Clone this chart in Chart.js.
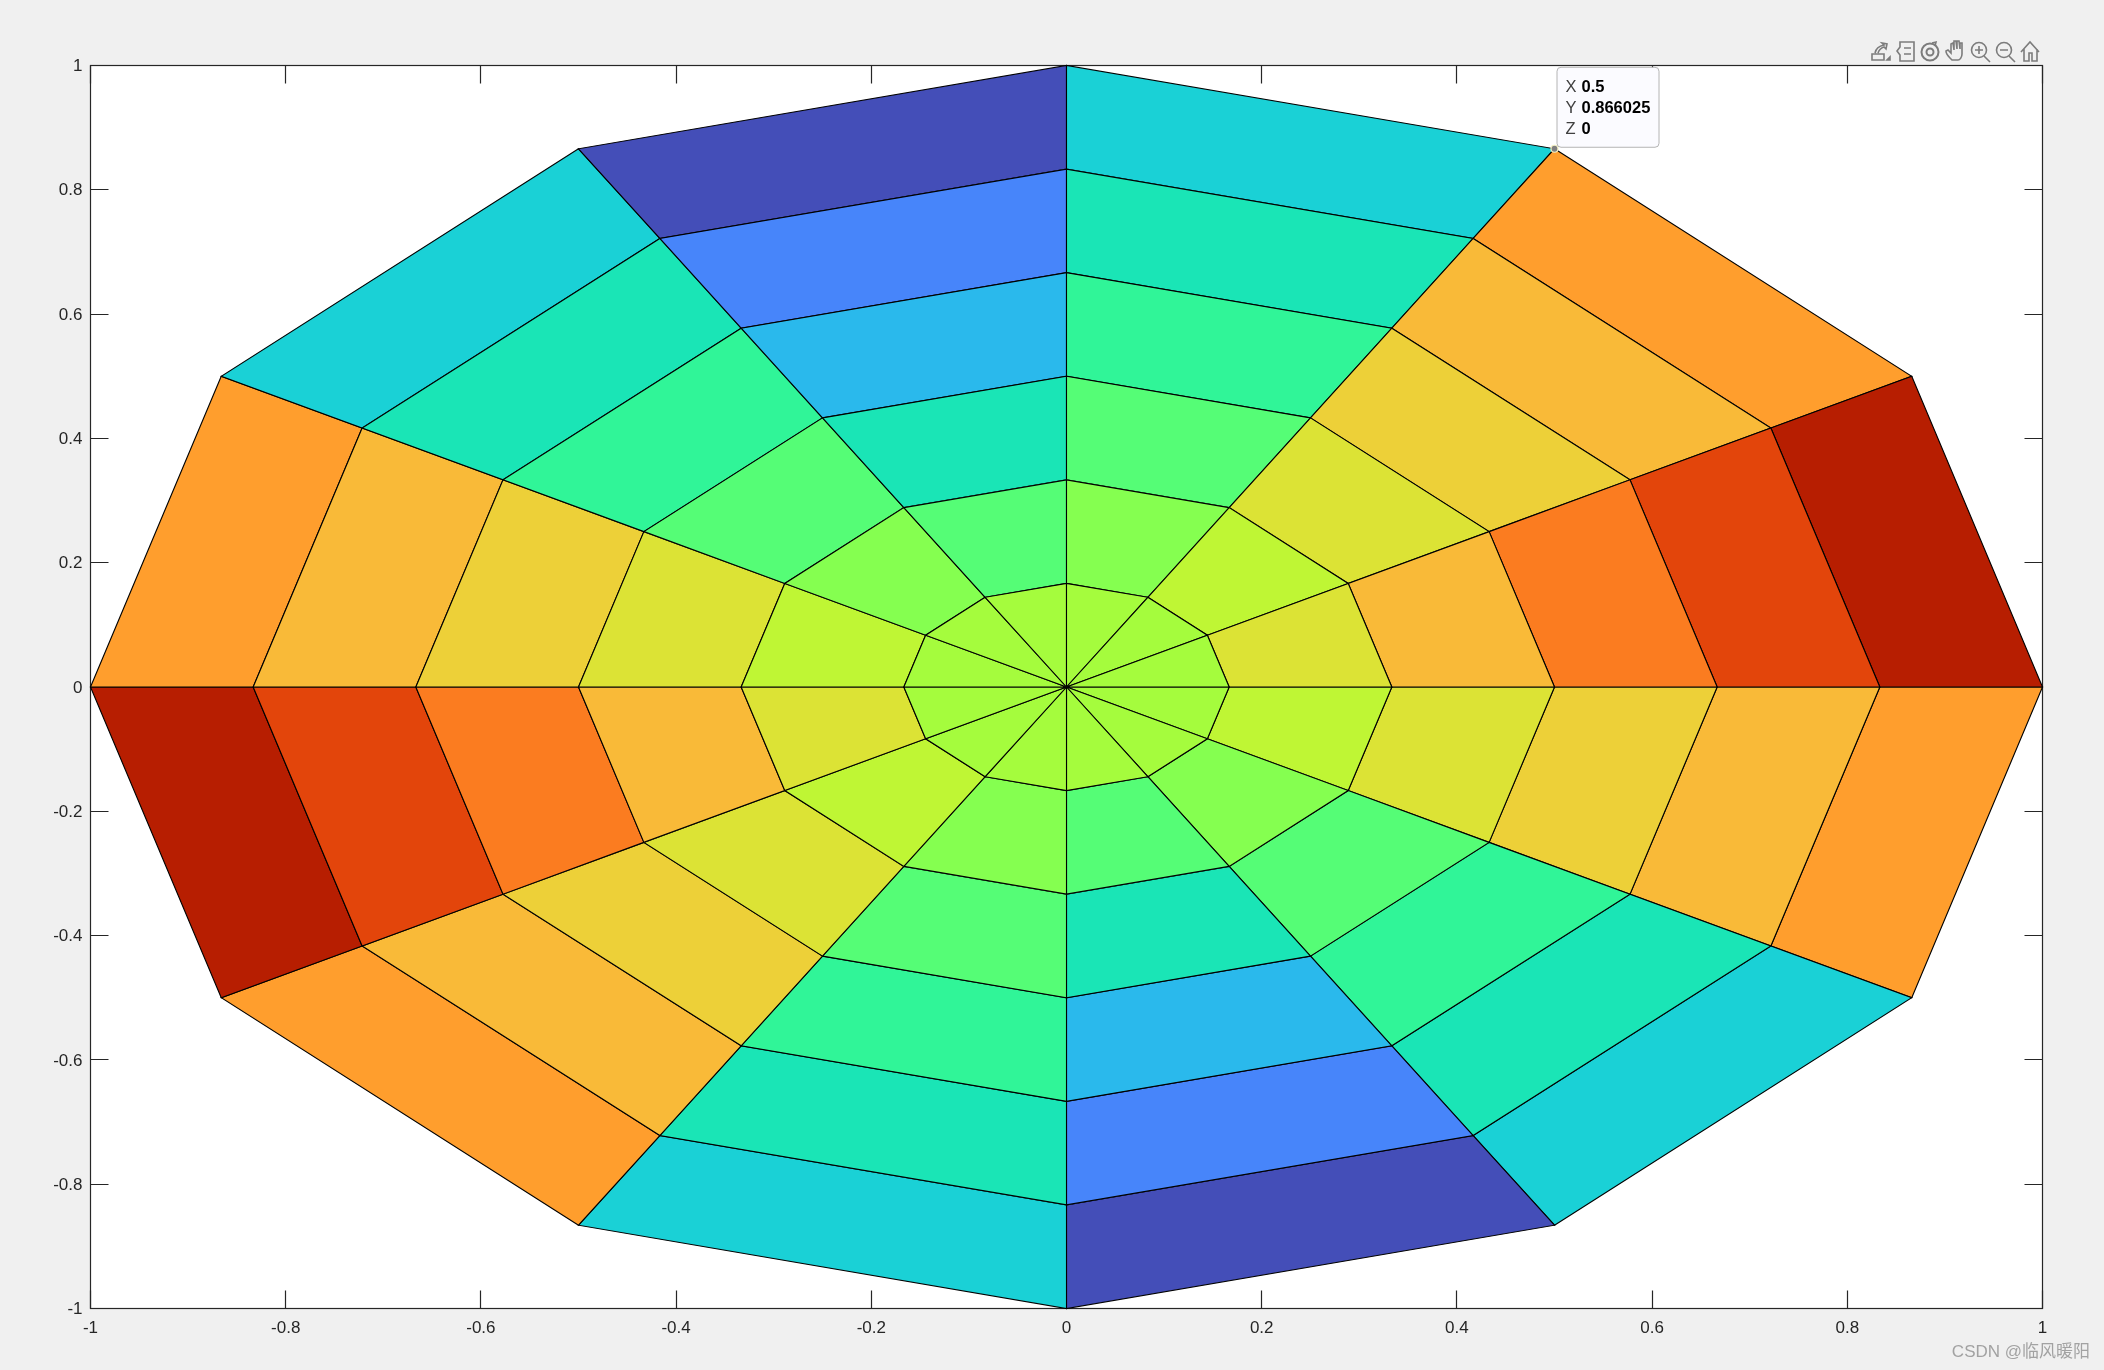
<!DOCTYPE html>
<html lang="en">
<head>
  <meta charset="UTF-8">
  <title>Polar mesh</title>
  <script src="https://cdn.jsdelivr.net/npm/chart.js"></script>
  <style>
    body { margin: 0; background: #f0f0f0; }
    #wrap { position: relative; width: 2104px; height: 1370px; overflow: hidden; }
    #mesh { position: absolute; left: 0; top: 0; }
    #toolbar { position: absolute; left: 0; top: 0; }
    #toolbar * { fill: none; stroke: #7c7c7c; stroke-width: 1.6; }
  </style>
</head>
<body>
<div id="wrap">
  <canvas id="mesh" width="2104" height="1370"></canvas>
  <svg id="toolbar" width="2104" height="64">
    <path d="M1872 60v-6h12v6zM1875 53c1-5 4-7 9-8l-2-2 5 1-1 5-2-2c-3 1-5 3-6 6"/>
    <path d="M1887 60h3v-3z" style="fill:#7c7c7c"/>
    <path d="M1900 42h14v19h-14v-6l-3-4 3-4zM1904 48h7M1904 54h7"/>
    <circle cx="1930" cy="52" r="8.5" style="stroke-width:2"/><circle cx="1930" cy="52" r="3.5" style="stroke-width:2"/><path d="M1932 43l4-1-1 4"/>
    <path d="M1950 58c-2-2-4-5-4-7l2-1 3 3v-9l2-1 1 7v-9h2l1 8v-8h2l1 8v-6h2v11c0 3-2 6-4 6h-6z"/>
    <circle cx="1979" cy="50" r="7.5"/><path d="M1975 50h8M1979 46v8M1984 56l6 6"/>
    <circle cx="2004" cy="50" r="7.5"/><path d="M2000 50h8M2009 56l6 6"/>
    <path d="M2021 52l9-10 9 10M2024 49v12h5v-8h3v8h5v-12"/>
  </svg>
</div>
<script>
// mesh nodes: rings and spokes
const ringRadii = [0, 0.166667, 0.333333, 0.5, 0.666667, 0.833333, 1];
const spokeX = [1, 0.866025, 0.5, 0, -0.5, -0.866025, -1, -0.866025, -0.5, 0, 0.5, 0.866025, 1];
const spokeY = [0, 0.5, 0.866025, 1, 0.866025, 0.5, 0, -0.5, -0.866025, -1, -0.866025, -0.5, 0];

// colour level of each cell, one list per sector, inner ring first
const sector1 = [8, 10, 12, 14, 15, 16];
const sector2 = [8, 9, 10, 11, 12, 13];
const sector3 = [8, 7, 6, 5, 4, 3];
const sector4 = [8, 6, 4, 2, 1, 0];
const sector5 = [8, 7, 6, 5, 4, 3];
const sector6 = [8, 9, 10, 11, 12, 13];
const sector7 = [8, 10, 12, 14, 15, 16];
const sector8 = [8, 9, 10, 11, 12, 13];
const sector9 = [8, 7, 6, 5, 4, 3];
const sector10 = [8, 6, 4, 2, 1, 0];
const sector11 = [8, 7, 6, 5, 4, 3];
const sector12 = [8, 9, 10, 11, 12, 13];
const sectors = [sector1, sector2, sector3, sector4, sector5, sector6,
                 sector7, sector8, sector9, sector10, sector11, sector12];

const colormap = ['#444eb8', '#4785fa', '#2ab9ec', '#1ad1d6', '#1ae5b6', '#30f598', '#55fd76', '#85ff50', '#a5fc3d',
                  '#bff634', '#dce335', '#edd038', '#f9ba38', '#ff9e2d', '#fb7c20', '#e3450b', '#b71e01'];

const tickValues = [-1, -0.8, -0.6, -0.4, -0.2, 0, 0.2, 0.4, 0.6, 0.8, 1];
const tickLabels = ['-1', '-0.8', '-0.6', '-0.4', '-0.2', '0', '0.2', '0.4', '0.6', '0.8', '1'];

// data tip
const tipX = 0.5;
const tipY = 0.866025;
const tipNames = ['X', 'Y', 'Z'];
const tipTexts = ['0.5', '0.866025', '0'];

const axisColor = '#262626';

const datasets = [{
  data: [{ x: tipX, y: tipY }],
  showLine: false,
  pointRadius: 3.5,
  pointBackgroundColor: '#7f7f7f',
  pointBorderColor: '#f4f1c4',
  pointBorderWidth: 1.2,
  clip: false
}];
sectors.forEach((levels, s) => {
  levels.forEach((level, r) => {
    const cell = [
      { x: ringRadii[r] * spokeX[s], y: ringRadii[r] * spokeY[s] },
      { x: ringRadii[r + 1] * spokeX[s], y: ringRadii[r + 1] * spokeY[s] },
      { x: ringRadii[r + 1] * spokeX[s + 1], y: ringRadii[r + 1] * spokeY[s + 1] },
      { x: ringRadii[r] * spokeX[s + 1], y: ringRadii[r] * spokeY[s + 1] }
    ];
    cell.push(cell[0]);
    datasets.push({
      data: cell,
      showLine: true,
      tension: 0,
      fill: false,
      backgroundColor: colormap[level],
      borderColor: '#000',
      borderWidth: 1.1,
      pointRadius: 0,
      clip: false
    });
  });
});

// polygons: fill the line's own points just before it is stroked
const cellFill = {
  id: 'cellFill',
  beforeDatasetDraw(chart, args) {
    const pts = args.meta.data;
    if (pts.length < 4) return;
    const ctx = chart.ctx;
    ctx.save();
    ctx.beginPath();
    pts.forEach((p, i) => i ? ctx.lineTo(p.x, p.y) : ctx.moveTo(p.x, p.y));
    ctx.closePath();
    ctx.fillStyle = args.meta.dataset.options.backgroundColor;
    ctx.fill();
    ctx.restore();
  }
};

// box and inward ticks on all four sides
const axesBox = {
  id: 'axesBox',
  beforeDatasetsDraw(chart) {
    const { ctx, chartArea: a, scales } = chart;
    const len = 18;
    ctx.save();
    ctx.fillStyle = '#fff';
    ctx.fillRect(a.left, a.top, a.right - a.left, a.bottom - a.top);
    ctx.strokeStyle = axisColor;
    ctx.lineWidth = 1.2;
    ctx.strokeRect(a.left, a.top, a.right - a.left, a.bottom - a.top);
    ctx.beginPath();
    tickValues.forEach(v => {
      const x = Math.floor(scales.x.getPixelForValue(v)) + 0.5;
      const y = Math.floor(scales.y.getPixelForValue(v)) + 0.5;
      ctx.moveTo(x, a.top); ctx.lineTo(x, a.top + len);
      ctx.moveTo(x, a.bottom); ctx.lineTo(x, a.bottom - len);
      ctx.moveTo(a.left, y); ctx.lineTo(a.left + len, y);
      ctx.moveTo(a.right, y); ctx.lineTo(a.right - len, y);
    });
    ctx.stroke();
    ctx.restore();
  }
};

// data tip box and the watermark
const extras = {
  id: 'extras',
  afterDatasetsDraw(chart) {
    const { ctx, scales } = chart;
    const px = scales.x.getPixelForValue(tipX);
    const py = scales.y.getPixelForValue(tipY);
    const left = px + 2.5, top = py - 81.5;
    ctx.save();
    ctx.beginPath();
    ctx.roundRect(left, top, 102, 80, 4);
    ctx.fillStyle = '#fbfbff';
    ctx.fill();
    ctx.strokeStyle = '#b4b4b4';
    ctx.lineWidth = 1;
    ctx.stroke();
    ctx.textBaseline = 'middle';
    tipNames.forEach((name, i) => {
      const y = top + 20 + i * 21;
      ctx.font = '16.5px "Liberation Sans"';
      ctx.fillStyle = '#404040';
      ctx.fillText(name, left + 8.5, y);
      ctx.font = 'bold 16.5px "Liberation Sans"';
      ctx.fillStyle = '#000';
      ctx.fillText(tipTexts[i], left + 24.5, y);
    });
    ctx.font = '17px "Liberation Sans", "Noto Sans CJK SC"';
    ctx.fillStyle = '#a2a2a2';
    ctx.textAlign = 'right';
    ctx.fillText('CSDN @临风暖阳', 2090, 1352);
    ctx.restore();
  }
};

function axis(fit) {
  return {
    type: 'linear',
    min: -1,
    max: 1,
    afterFit: fit,
    afterBuildTicks(scale) { scale.ticks = tickValues.map(value => ({ value })); },
    grid: { display: false },
    border: { display: false },
    ticks: {
      autoSkip: false,
      maxRotation: 0,
      color: axisColor,
      font: { family: '"Liberation Sans"', size: 17 },
      callback: (v, i) => tickLabels[i]
    }
  };
}

const xAxis = axis(scale => { scale.height = 61.5; });
xAxis.ticks.padding = 2;
const yAxis = axis(scale => { scale.width = 90.5; });
yAxis.ticks.padding = 0;
yAxis.ticks.labelOffset = 1;

new Chart(document.getElementById('mesh'), {
  type: 'scatter',
  data: { datasets },
  plugins: [axesBox, cellFill, extras],
  options: {
    responsive: false,
    animation: false,
    devicePixelRatio: 1,
    layout: { padding: { top: 65.5, right: 61.5, left: 0, bottom: 0 } },
    plugins: { legend: { display: false }, tooltip: { enabled: false } },
    scales: { x: xAxis, y: yAxis }
  }
});
</script>
</body>
</html>
